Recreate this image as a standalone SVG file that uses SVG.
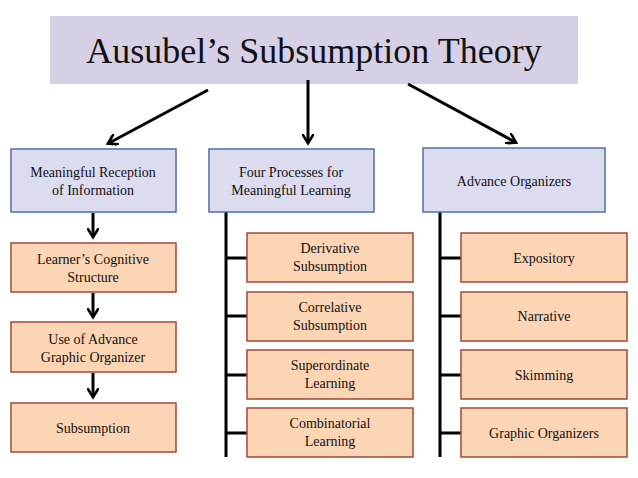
<svg xmlns="http://www.w3.org/2000/svg" width="638" height="478" viewBox="0 0 638 478" font-family="'Liberation Serif', 'DejaVu Serif', serif">
<style>
text{fill:#111;text-anchor:middle;font-family:'Liberation Serif','DejaVu Serif',serif}
.t{font-size:14px}
.h{fill:#dcdcf0;stroke:#4f6fa0;stroke-width:1.5}
.o{fill:#fcd5b5;stroke:#a0483a;stroke-width:1.5}
.l{stroke:#000;stroke-width:3;fill:none}
</style>
<defs><marker id="a" viewBox="0 0 10 10" refX="7" refY="5" markerWidth="4" markerHeight="4" orient="auto"><path d="M0,0L8,5L0,10" fill="none" stroke="#000" stroke-width="2.2"/></marker></defs>
<rect width="638" height="478" fill="#fff"/>
<g id="title"><rect x="50" y="16" width="528" height="68" fill="#d6d0e6"/><text x="314" y="63" font-size="36">Ausubel’s Subsumption Theory</text></g>
<g id="connectors">
<path class="l" marker-end="url(#a)" d="M208,90L109,143"/>
<path class="l" marker-end="url(#a)" d="M308,80L308,142"/>
<path class="l" marker-end="url(#a)" d="M408,84L515,142"/>
<path class="l" marker-end="url(#a)" d="M93,213V236"/>
<path class="l" marker-end="url(#a)" d="M93,293V316"/>
<path class="l" marker-end="url(#a)" d="M93,373V396"/>
<path class="l" d="M226,212V457M226,258H247M226,316H247M226,375H247M226,433H247"/>
<path class="l" d="M440,212V457M440,258H461M440,316H461M440,375H461M440,433H461"/>
</g>
<g id="n1"><rect class="h" x="11" y="149" width="165" height="63"/><text class="t" x="93" y="177">Meaningful Reception</text><text class="t" x="93" y="195">of Information</text></g>
<g id="n2"><rect class="h" x="209" y="149" width="165" height="63"/><text class="t" x="291" y="177">Four Processes for</text><text class="t" x="291" y="195">Meaningful Learning</text></g>
<g id="n3"><rect class="h" x="423" y="148" width="182" height="64"/><text class="t" x="514" y="186">Advance Organizers</text></g>
<g id="l1"><rect class="o" x="11" y="243" width="165" height="49"/><text class="t" x="93" y="264">Learner’s Cognitive</text><text class="t" x="93" y="282">Structure</text></g>
<g id="l2"><rect class="o" x="11" y="322" width="165" height="50"/><text class="t" x="93" y="344">Use of Advance</text><text class="t" x="93" y="362">Graphic Organizer</text></g>
<g id="l3"><rect class="o" x="11" y="403" width="165" height="49"/><text class="t" x="93" y="433">Subsumption</text></g>
<g id="m1"><rect class="o" x="247" y="233" width="166" height="49"/><text class="t" x="330" y="253">Derivative</text><text class="t" x="330" y="271">Subsumption</text></g>
<g id="m2"><rect class="o" x="247" y="292" width="166" height="49"/><text class="t" x="330" y="312">Correlative</text><text class="t" x="330" y="330">Subsumption</text></g>
<g id="m3"><rect class="o" x="247" y="350" width="166" height="49"/><text class="t" x="330" y="370">Superordinate</text><text class="t" x="330" y="388">Learning</text></g>
<g id="m4"><rect class="o" x="247" y="408" width="166" height="49"/><text class="t" x="330" y="428">Combinatorial</text><text class="t" x="330" y="446">Learning</text></g>
<g id="r1"><rect class="o" x="461" y="233" width="166" height="49"/><text class="t" x="544" y="263">Expository</text></g>
<g id="r2"><rect class="o" x="461" y="292" width="166" height="49"/><text class="t" x="544" y="321">Narrative</text></g>
<g id="r3"><rect class="o" x="461" y="350" width="166" height="49"/><text class="t" x="544" y="380">Skimming</text></g>
<g id="r4"><rect class="o" x="461" y="408" width="166" height="49"/><text class="t" x="544" y="438">Graphic Organizers</text></g>
</svg>
